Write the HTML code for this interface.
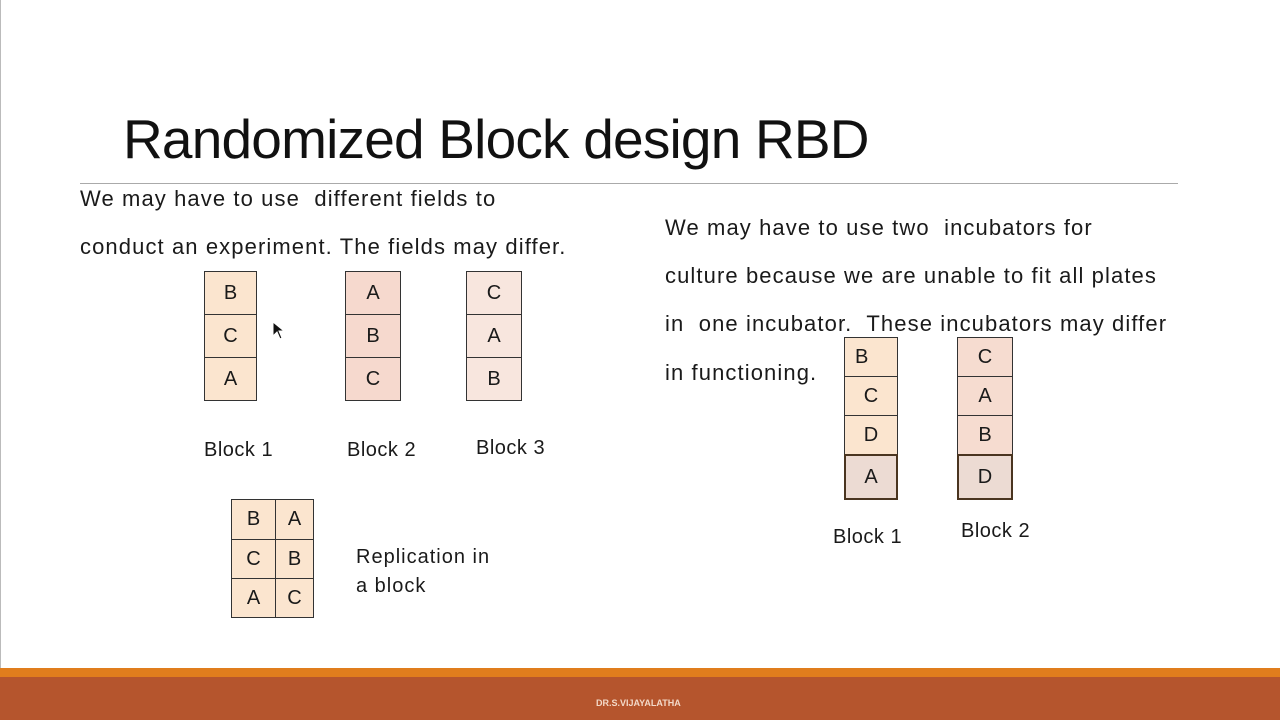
<!DOCTYPE html>
<html><head><meta charset="utf-8"><style>
body{margin:0;width:1280px;height:720px;background:#fff;position:relative;overflow:hidden;font-family:"Liberation Sans",sans-serif;color:#1a1a1a}
.a{position:absolute;white-space:nowrap}
.t{font-size:22px;letter-spacing:1.1px}
.l{font-size:20px;letter-spacing:0.5px}
.c{position:absolute;border:1.5px solid #333;box-sizing:border-box;display:flex;align-items:center;justify-content:center;font-size:20px}
</style></head><body>
<div style="position:absolute;left:0;top:0;width:1px;height:668px;background:#bbb"></div>
<div class="a" style="left:123px;top:107px;font-size:55px;letter-spacing:-0.8px;color:#111">Randomized Block design RBD</div>
<div style="position:absolute;left:80px;top:183px;width:1098px;height:1px;background:#aaa"></div>
<div class="a t" style="left:80px;top:186px">We may have to use&nbsp; different fields to</div>
<div class="a t" style="left:80px;top:234px">conduct an experiment. The fields may differ.</div>
<div class="a t" style="left:665px;top:215px">We may have to use two&nbsp; incubators for</div>
<div class="a t" style="left:665px;top:263px">culture because we are unable to fit all plates</div>
<div class="a t" style="left:665px;top:311px">in&nbsp; one incubator.&nbsp; These incubators may differ</div>
<div class="a t" style="left:665px;top:360px">in functioning.</div>

<div class="c" style="left:204px;top:271px;width:53px;height:44px;background:#fbe5cf">B</div>
<div class="c" style="left:204px;top:314px;width:53px;height:44px;background:#fbe5cf">C</div>
<div class="c" style="left:204px;top:357px;width:53px;height:44px;background:#fbe5cf">A</div>
<div class="c" style="left:345px;top:271px;width:56px;height:44px;background:#f6d9ce">A</div>
<div class="c" style="left:345px;top:314px;width:56px;height:44px;background:#f6d9ce">B</div>
<div class="c" style="left:345px;top:357px;width:56px;height:44px;background:#f6d9ce">C</div>
<div class="c" style="left:466px;top:271px;width:56px;height:44px;background:#f8e6de">C</div>
<div class="c" style="left:466px;top:314px;width:56px;height:44px;background:#f8e6de">A</div>
<div class="c" style="left:466px;top:357px;width:56px;height:44px;background:#f8e6de">B</div>
<div class="a l" style="left:204px;top:439px">Block 1</div>
<div class="a l" style="left:347px;top:439px">Block 2</div>
<div class="a l" style="left:476px;top:437px">Block 3</div>

<div class="c" style="left:231px;top:499px;width:45px;height:41px;background:#fbe5cf">B</div>
<div class="c" style="left:275px;top:499px;width:39px;height:41px;background:#fbe5cf">A</div>
<div class="c" style="left:231px;top:539px;width:45px;height:40px;background:#fbe5cf">C</div>
<div class="c" style="left:275px;top:539px;width:39px;height:40px;background:#fbe5cf">B</div>
<div class="c" style="left:231px;top:578px;width:45px;height:40px;background:#fbe5cf">A</div>
<div class="c" style="left:275px;top:578px;width:39px;height:40px;background:#fbe5cf">C</div>
<div class="a" style="left:356px;top:546px;font-size:20px;letter-spacing:1px">Replication in</div>
<div class="a" style="left:356px;top:575px;font-size:20px;letter-spacing:1px">a block</div>

<div class="c" style="left:844px;top:337px;width:54px;height:40px;background:#fbe5cf;justify-content:flex-start;padding-left:10px">B</div>
<div class="c" style="left:844px;top:376px;width:54px;height:40px;background:#fbe5cf">C</div>
<div class="c" style="left:844px;top:415px;width:54px;height:40px;background:#fbe5cf">D</div>
<div class="c" style="left:844px;top:454px;width:54px;height:46px;background:#ecdbd3;border:2.5px solid #4a3520">A</div>
<div class="c" style="left:957px;top:337px;width:56px;height:40px;background:#f6dcd0">C</div>
<div class="c" style="left:957px;top:376px;width:56px;height:40px;background:#f6dcd0">A</div>
<div class="c" style="left:957px;top:415px;width:56px;height:40px;background:#f6dcd0">B</div>
<div class="c" style="left:957px;top:454px;width:56px;height:46px;background:#ecdbd3;border:2.5px solid #4a3520">D</div>
<div class="a l" style="left:833px;top:526px">Block 1</div>
<div class="a l" style="left:961px;top:520px">Block 2</div>

<svg style="position:absolute;left:272px;top:321px" width="14" height="20"><path d="M1 1 L1 15 L5 11 L8 18 L10 17 L7 10 L12 10 Z" fill="#111" stroke="#fff" stroke-width="1"/></svg>

<div style="position:absolute;left:0;top:668px;width:1280px;height:9px;background:#e07d1d"></div>
<div style="position:absolute;left:0;top:677px;width:1280px;height:43px;background:#b5552d"></div>
<div class="a" style="left:596px;top:698px;font-size:9px;font-weight:bold;color:#f3d9c8">DR.S.VIJAYALATHA</div>
</body></html>
